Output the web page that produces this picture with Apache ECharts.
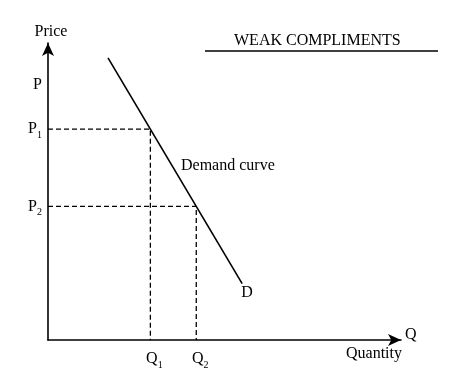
<!DOCTYPE html>
<html><head><meta charset="utf-8">
<script src="https://cdn.jsdelivr.net/npm/echarts@6/dist/echarts.min.js"></script>
<style>html,body{margin:0;padding:0;background:#fff}#c{width:450px;height:385px}</style>
</head><body><div id="c"></div>
<script>
// Data (quantity 0..100, price 0..100)
const demandCurve = [[17, 95], [55, 19]];
const Q1 = 29, P1 = 71;
const Q2 = 42, P2 = 45;
const P_mark = 86;
const xTickLabels = {29: '{m|Q}{s|1}', 42: '{m|Q}{s|2}'};
const yTickLabels = {45: '{m|P}{s|2}', 71: '{m|P}{s|1}', 86: '{m|P}'};

const FONT = 'Liberation Serif';
const rich = {
  m: {fontFamily: FONT, fontSize: 16, color: '#000'},
  s: {fontFamily: FONT, fontSize: 10, color: '#000', padding: [12, 0, 0, 0]}
};
const chart = echarts.init(document.getElementById('c'), null, {renderer: 'canvas'});
chart.setOption({
  animation: false,
  backgroundColor: '#fff',
  grid: {left: 48, right: 49, top: 43, bottom: 45},
  xAxis: {
    type: 'value', min: 0, max: 100,
    name: 'Q', nameGap: 4,
    nameTextStyle: {fontFamily: FONT, fontSize: 16, color: '#000', verticalAlign: 'bottom', padding: [0, 0, -3, 0]},
    axisLine: {show: true, symbol: ['none', 'arrow'], symbolSize: [9, 13], lineStyle: {color: '#000', width: 1.6}},
    axisTick: {show: false},
    splitLine: {show: false},
    axisLabel: {customValues: [Q1, Q2], margin: 8, padding: [0, 0, 0, 8], formatter: v => xTickLabels[v] || '', rich: rich}
  },
  yAxis: {
    type: 'value', min: 0, max: 100,
    name: 'Price', nameGap: 3,
    nameTextStyle: {fontFamily: FONT, fontSize: 16, color: '#000', padding: [0, 0, 0, 6]},
    axisLine: {show: true, symbol: ['none', 'arrow'], symbolSize: [9, 13], lineStyle: {color: '#000', width: 1.6}},
    axisTick: {show: false},
    splitLine: {show: false},
    axisLabel: {customValues: [P2, P1, P_mark], margin: 6, formatter: v => yTickLabels[v] || '', rich: rich}
  },
  series: [
    {type: 'line', data: demandCurve, symbol: 'none', lineStyle: {color: '#000', width: 1.6},
     endLabel: {show: true, formatter: 'D', fontFamily: FONT, fontSize: 16, color: '#000', offset: [-9, 9]}},
    {type: 'line', data: [[0, P1], [Q1, P1], [Q1, 0]], symbol: 'none', lineStyle: {color: '#000', width: 1.3, type: [5, 3]}},
    {type: 'line', data: [[0, P2], [Q2, P2], [Q2, 0]], symbol: 'none', lineStyle: {color: '#000', width: 1.3, type: [5, 3]}}
  ],
  graphic: [
    {type: 'text', left: 234, top: 33, style: {text: 'WEAK COMPLIMENTS', fontFamily: FONT, fontSize: 16, fill: '#000'}},
    {type: 'line', shape: {x1: 205, y1: 51, x2: 438, y2: 51}, style: {stroke: '#000', lineWidth: 1.6}},
    {type: 'text', left: 181, top: 158, style: {text: 'Demand curve', fontFamily: FONT, fontSize: 16, fill: '#000'}},
    {type: 'text', left: 346, top: 346, style: {text: 'Quantity', fontFamily: FONT, fontSize: 16, fill: '#000'}}
  ]
});
</script></body></html>
